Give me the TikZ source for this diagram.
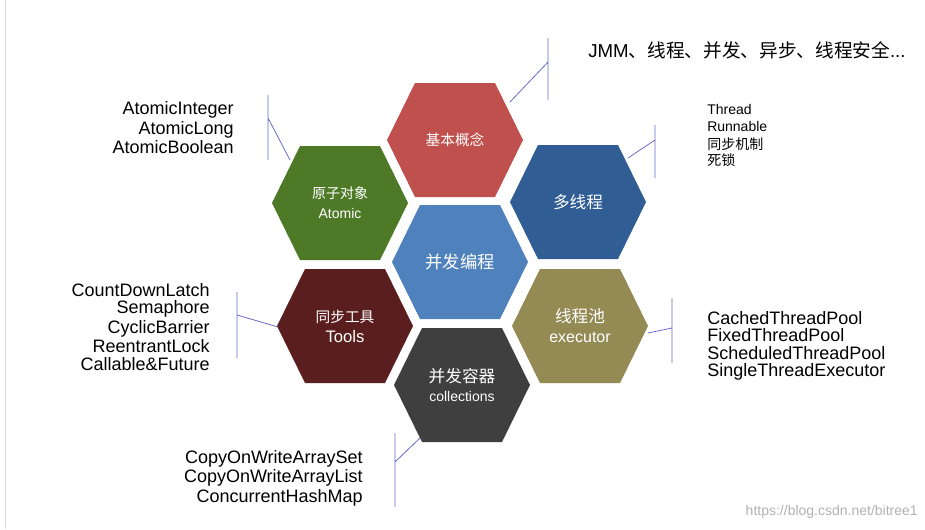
\documentclass[tikz,border=0pt]{standalone}
\usepackage{fontspec}
\setmainfont{Liberation Sans}
\newfontfamily\cjk{Noto Sans CJK SC}
\newcommand{\fs}[1]{\fontsize{#1}{#1}\selectfont}
\begin{document}
\begin{tikzpicture}[x=0.75pt,y=-0.75pt,
  hexlbl/.style={text=white,align=center,inner sep=0pt},
  callout/.style={draw=blue!45!gray!80,line width=0.6pt},
  lst/.style={align=left,inner sep=0pt,text=black}]
\useasboundingbox[fill=white] (0,0) rectangle (925,529);
\draw[gray!30] (5,0) -- (5,529);
\newcommand{\hex}[3]{\fill[#3] (#1-68,#2) -- (#1-40,#2-57) -- (#1+40,#2-57) -- (#1+68,#2) -- (#1+40,#2+57) -- (#1-40,#2+57) -- cycle;}
\definecolor{cred}{HTML}{C0504D}\definecolor{cblue}{HTML}{2F5D94}
\definecolor{cgreen}{HTML}{4E7A27}\definecolor{ccen}{HTML}{4F81BD}
\definecolor{cdred}{HTML}{5A1E1E}\definecolor{cgray}{HTML}{3F3F3F}
\definecolor{colive}{HTML}{948A54}
\hex{455}{140}{cred}\hex{578}{202}{cblue}\hex{340}{203}{cgreen}
\hex{460}{262}{ccen}\hex{345}{326}{cdred}\hex{462}{385}{cgray}\hex{580}{326}{colive}
\node[hexlbl] (basic) at (455,140) {\fs{11}\cjk 基本概念};
\node[hexlbl] (multi) at (578,202) {\fs{12.5}\cjk 多线程};
\node[hexlbl] (atomic) at (340,203) {\fs{10.5}\cjk 原子对象\\[3pt]\fs{10.5}Atomic};
\node[hexlbl] (center) at (460,262) {\fs{13}\cjk 并发编程};
\node[hexlbl] (tools) at (345,326) {\fs{11}\cjk 同步工具\\[3pt]\fs{12.5}Tools};
\node[hexlbl] (coll) at (462,385) {\fs{12.5}\cjk 并发容器\\[2pt]\fs{10.5}collections};
\node[hexlbl] (exec) at (580,326) {\fs{12.5}\cjk 线程池\\[3pt]\fs{12}executor};
% callouts
\coordinate (b1) at (548,38);\coordinate (b2) at (548,100);\coordinate (bm) at (548,62);\coordinate (bh) at (510,102);
\draw[callout] (b1)--(b2) (bh)--(bm);
\node[lst,anchor=west] (t1) at (588,50) {\fs{14}JMM{\cjk 、线程、并发、异步、线程安全}...};
\coordinate (a1) at (268,95);\coordinate (a2) at (268,160);\coordinate (am) at (268,118);\coordinate (ah) at (290,160);
\draw[callout] (a1)--(a2) (am)--(ah);
\node[lst,align=right,anchor=east] (t2) at (234,128) {\fs{13.5}AtomicInteger\\[1pt]\fs{13.5}AtomicLong\\[1pt]\fs{13.5}AtomicBoolean};
\coordinate (m1) at (655,125);\coordinate (m2) at (655,178);\coordinate (mm) at (655,140);\coordinate (mh) at (628,158);
\draw[callout] (m1)--(m2) (mm)--(mh);
\node[lst,anchor=north west] (t3) at (707,104) {\fs{10.5}Thread\\[1pt]\fs{10.5}Runnable\\[1pt]\fs{10.5}\cjk 同步机制\\\fs{10.5}\cjk 死锁};
\coordinate (s1) at (237,292);\coordinate (s2) at (237,358);\coordinate (sm) at (237,315);\coordinate (sh) at (278,327);
\draw[callout] (s1)--(s2) (sm)--(sh);
\node[lst,align=right,anchor=east] (t4) at (210,327) {\fs{13.5}CountDownLatch\\[1pt]\fs{13.5}Semaphore\\[1pt]\fs{13.5}CyclicBarrier\\[1pt]\fs{13.5}ReentrantLock\\[1pt]\fs{13.5}Callable\&Future};
\coordinate (e1) at (672,298);\coordinate (e2) at (672,363);\coordinate (em) at (672,328);\coordinate (eh) at (648,333);
\draw[callout] (e1)--(e2) (em)--(eh);
\node[lst,anchor=west] (t5) at (707,346) {\fs{13.5}CachedThreadPool\\[1pt]\fs{13.5}FixedThreadPool\\[1pt]\fs{13.5}ScheduledThreadPool\\[1pt]\fs{13.5}SingleThreadExecutor};
\coordinate (c1) at (395,433);\coordinate (c2) at (395,507);\coordinate (cm) at (395,462);\coordinate (ch) at (420,438);
\draw[callout] (c1)--(c2) (cm)--(ch);
\node[lst,align=right,anchor=east] (t6) at (363,478) {\fs{13.5}CopyOnWriteArraySet\\[1pt]\fs{13.5}CopyOnWriteArrayList\\[1pt]\fs{13.5}ConcurrentHashMap};
\node[anchor=east,text=gray!60,inner sep=0pt] (wm) at (918,512) {\fs{10.5}https://blog.csdn.net/bitree1};
\end{tikzpicture}
\end{document}
